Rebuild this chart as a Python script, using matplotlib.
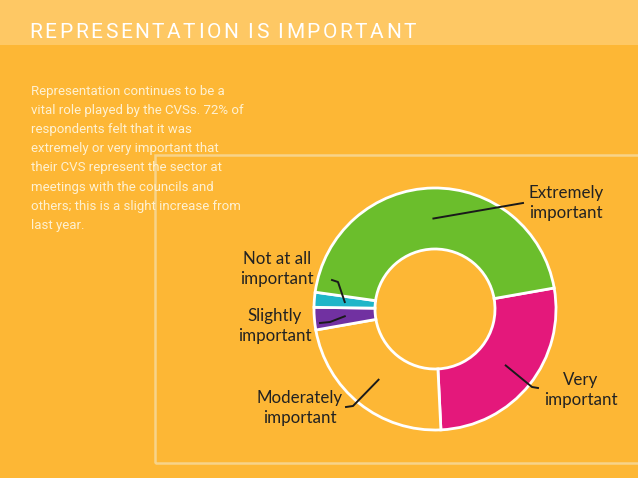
import matplotlib
matplotlib.use('Agg')
import matplotlib.pyplot as plt
from matplotlib.patches import Rectangle
import numpy as np

# data
labels = ['Very\nimportant', 'Moderately\nimportant', 'Slightly\nimportant',
          'Not at all\nimportant', 'Extremely\nimportant']
values = [27, 23, 3, 2, 45]
colors = ['#E4187B', '#FDB735', '#7131A1', '#1FB6C8', '#6BBE2C']
title = 'REPRESENTATION IS IMPORTANT'
body = ['Representation continues to be a',
        'vital role played by the CVSs. 72% of',
        'respondents felt that it was',
        'extremely or very important that',
        'their CVS represent the sector at',
        'meetings with the councils and',
        'others; this is a slight increase from',
        'last year.']

W, H = 638, 478
bg = '#FDB735'

fig = plt.figure(figsize=(W / 100, H / 100), dpi=100)
fig.patch.set_facecolor(bg)
ax = fig.add_axes([0, 0, 1, 1])
ax.set_xlim(0, W)
ax.set_ylim(0, H)
ax.set_aspect('equal')
ax.axis('off')


def py(y):
    # pixel row from top -> data y
    return H - y


# top banner
ax.add_patch(Rectangle((0, py(45)), W, 45, facecolor='#FEC864', edgecolor='none', zorder=0))

# frame
ax.add_patch(Rectangle((155, py(463)), 500, 308, facecolor='none',
                       edgecolor='#F7D38A', linewidth=1.8, zorder=1))

# title with letter spacing
renderer = fig.canvas.get_renderer()
x = 29
for ch in title:
    t = ax.text(x, py(38), ch, color='white', fontsize=15, family='Roboto',
                va='baseline', ha='left', zorder=5)
    if ch == ' ':
        w = 4
    else:
        bb = t.get_window_extent(renderer=renderer)
        w = bb.width
    x += w + 2.6

# body text
for i, line in enumerate(body):
    ax.text(31, py(95 + i * 19.1), line, color='#FEF1D2', fontsize=9.5,
            family='Roboto', va='baseline', ha='left', zorder=5)

# donut
cx, cy = 435, py(309)
R, r_in = 121, 60
wedges, _ = ax.pie(values, colors=colors, startangle=10, counterclock=False,
                   radius=R, center=(cx, cy),
                   wedgeprops=dict(width=R - r_in, edgecolor='white', linewidth=2))
ax.set_xlim(0, W)
ax.set_ylim(0, H)
ax.axis('off')

# leader lines: start at the middle of each wedge, end near its label
ends = [[(532, 387), (538, 388)],
        [(353, 406), (346, 407)],
        [(330, 322), (320, 323)],
        [(338, 282), (332, 280)],
        [(523, 203)]]
text_pos = [(581, 390), (300, 408), (275, 326), (277, 269), (566, 203)]

for w, pts, (tx, ty), lab in zip(wedges, ends, text_pos, labels):
    mid = np.deg2rad((w.theta1 + w.theta2) / 2)
    rm = (R + r_in) / 2
    xs = [cx + rm * np.cos(mid)] + [p[0] for p in pts]
    ys = [cy + rm * np.sin(mid)] + [py(p[1]) for p in pts]
    ax.plot(xs, ys, color='#1A1A1A', linewidth=1.4, zorder=6)
    ax.text(tx, py(ty), lab, ha='center', va='center', fontsize=12.2,
            family='Lato', color='#222222', linespacing=1.3, zorder=6)

plt.savefig('out.png', dpi=100, facecolor=bg)
